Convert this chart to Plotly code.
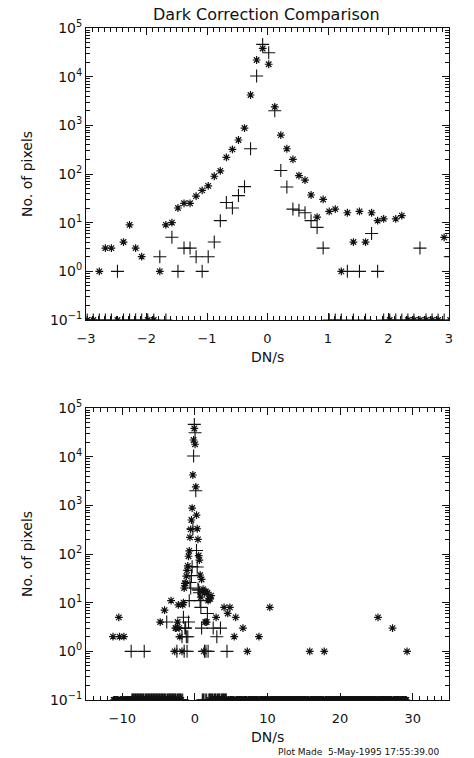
import numpy as np
import plotly.graph_objects as go

# ---------------- data (histograms, bin width 0.1 DN/s) ----------------
# Series 1 (asterisks): non-zero bins
ast_x = [-11.28, -10.48, -10.38, -9.78, -4.78, -4.18, -3.28,
         -2.78, -2.68, -2.58, -2.38, -2.28, -2.18, -2.08, -1.78, -1.68, -1.58,
         -1.48, -1.38, -1.28, -1.18, -1.08, -0.98, -0.88, -0.78, -0.68, -0.58,
         -0.48, -0.38, -0.28, -0.18, -0.08, 0.02, 0.12, 0.22, 0.32, 0.42, 0.52,
         0.62, 0.72, 0.82, 0.92, 1.02, 1.12, 1.22, 1.32, 1.42, 1.52, 1.62, 1.72,
         1.82, 1.92, 2.12, 2.22, 2.92,
         4.02, 4.52, 4.82, 5.42, 5.62, 6.62, 7.22, 8.82, 10.32, 15.82, 17.82,
         25.22, 27.22, 29.22]
ast_n = [2, 5, 2, 2, 4, 7, 11,
         1, 3, 3, 4, 9, 3, 2, 1, 9, 10,
         20, 25, 25, 35, 46, 57, 90, 116, 220, 320,
         500, 880, 4200, 22000, 38000, 18000, 2400, 630, 330, 200, 93,
         75, 37, 13, 30, 17, 19, 1, 16, 4, 17, 4, 16,
         11, 12, 12, 14, 5,
         8, 6, 8, 2, 5, 3, 1, 2, 8, 1, 1,
         5, 3, 1]
ast_span = (-11.28, 29.22)   # histogram range of series 1 (zero bins shown on axis)

# Series 2 (plus signs): non-zero bins
plus_x = [-8.78, -6.98, -3.88,
          -2.48, -1.78, -1.58, -1.48, -1.38, -1.28, -1.18, -1.08, -0.98, -0.88,
          -0.78, -0.68, -0.58, -0.48, -0.38, -0.28, -0.18, -0.08, 0.02, 0.12,
          0.22, 0.32, 0.42, 0.52, 0.62, 0.72, 0.82, 0.92, 1.32, 1.52, 1.72, 1.82,
          2.52, 3.02, 3.52, 4.42]
plus_n = [1, 1, 4,
          1, 2, 5, 1, 3, 3, 2, 1, 2, 4,
          11, 26, 20, 36, 55, 330, 10300, 46000, 31000, 2000,
          118, 54, 19, 18, 16, 11, 8, 3, 1, 1, 6, 1,
          3, 2, 3, 1]
plus_span = (-8.78, 4.42)

bin_width = 0.1
y_floor = 0.1   # zero counts drawn on the bottom axis (10^-1)

title_text = "Dark Correction Comparison"
x_label = "DN/s"
y_label = "No. of pixels"
footer_text = "Plot Made  5-May-1995 17:55:39.00"
y_tick_vals = [0.1, 1, 10, 100, 1000, 10000, 100000]
y_tick_text = ["10<sup>\u22121</sup>", "10<sup>0</sup>", "10<sup>1</sup>",
               "10<sup>2</sup>", "10<sup>3</sup>", "10<sup>4</sup>", "10<sup>5</sup>"]


def full_hist(xs, ns, span):
    """Expand non-zero bins to the full histogram range (zeros elsewhere)."""
    nbins = int(round((span[1] - span[0]) / bin_width)) + 1
    centers = np.round(span[0] + bin_width * np.arange(nbins), 2)
    lookup = {round(x, 2): n for x, n in zip(xs, ns)}
    counts = np.array([lookup.get(round(c, 2), 0) for c in centers], dtype=float)
    shown = np.where(counts > 0, counts, y_floor)
    return centers, shown


ax_c, ax_y = full_hist(ast_x, ast_n, ast_span)
px_c, px_y = full_hist(plus_x, plus_n, plus_span)

FONT = "DejaVu Sans"
INK = "#111111"

fig = go.Figure()
for xa, ya in (("x", "y"), ("x2", "y2")):
    fig.add_trace(go.Scatter(
        x=ax_c, y=ax_y, mode="markers", xaxis=xa, yaxis=ya,
        marker=dict(symbol="asterisk-open", size=6.5, color=INK,
                    line=dict(width=1.2, color=INK)),
        showlegend=False, cliponaxis=True))
    fig.add_trace(go.Scatter(
        x=px_c, y=px_y, mode="markers", xaxis=xa, yaxis=ya,
        marker=dict(symbol="cross-thin-open", size=9.3, color=INK,
                    line=dict(width=1.1, color=INK)),
        showlegend=False, cliponaxis=True))

W, H = 474, 758
L, R, T, B = 86, 25, 28, 58
PH = H - T - B  # 672


def py(p):
    return (H - B - p) / PH


def pxp(p):
    return (p - L) / (W - L - R)


y_minor = [k * 10.0 ** d for d in range(-1, 5) for k in range(2, 10)]

common_x = dict(showline=True, linecolor=INK, linewidth=1, mirror="allticks",
                ticks="inside", ticklen=7, tickwidth=1, tickcolor=INK,
                showgrid=False, zeroline=False,
                tickfont=dict(family=FONT, size=13, color=INK),
                ticklabelstandoff=6)
common_y = dict(type="log", range=[-1, 5], showline=True, linecolor=INK,
                linewidth=1, mirror="allticks", ticks="inside", ticklen=7,
                tickwidth=1, tickcolor=INK, showgrid=False, zeroline=False,
                tickmode="array", tickvals=y_tick_vals, ticktext=y_tick_text,
                tickfont=dict(family=FONT, size=14, color=INK),
                minor=dict(tickmode="array", tickvals=y_minor, ticks="inside",
                           ticklen=4, tickcolor=INK, showgrid=False))

fig.update_layout(
    width=W, height=H, margin=dict(l=L, r=R, t=T, b=B),
    paper_bgcolor="white", plot_bgcolor="white",
    xaxis=dict(domain=[0, 1], anchor="y", range=[-3, 3], dtick=1,
               minor=dict(dtick=0.1, ticks="inside", ticklen=4,
                          tickcolor=INK, showgrid=False),
               **common_x),
    yaxis=dict(domain=[py(320), 1], anchor="x", **common_y),
    xaxis2=dict(domain=[0, 1], anchor="y2", range=[-15, 35], dtick=10,
                minor=dict(dtick=1, ticks="inside", ticklen=4,
                           tickcolor=INK, showgrid=False),
                **common_x),
    yaxis2=dict(domain=[0, py(408)], anchor="x2", **common_y),
)

ann_font = dict(family=FONT, size=14, color=INK)
anns = [
    dict(text=title_text, x=pxp(266), y=py(14.5), font=dict(family=FONT, size=16, color=INK)),
    dict(text=x_label, x=pxp(267), y=py(357), font=ann_font),
    dict(text=x_label, x=pxp(267), y=py(737), font=ann_font),
    dict(text=y_label, x=pxp(27), y=py(174), font=ann_font, textangle=-90),
    dict(text=y_label, x=pxp(27), y=py(554), font=ann_font, textangle=-90),
]
for a in anns:
    fig.add_annotation(xref="paper", yref="paper", showarrow=False,
                       xanchor="center", yanchor="middle", **a)
fig.add_annotation(xref="paper", yref="paper", showarrow=False,
                   text=footer_text, x=pxp(442), y=py(745),
                   xanchor="right", yanchor="top",
                   font=dict(family=FONT, size=9, color=INK))

fig.write_html("out.html")
